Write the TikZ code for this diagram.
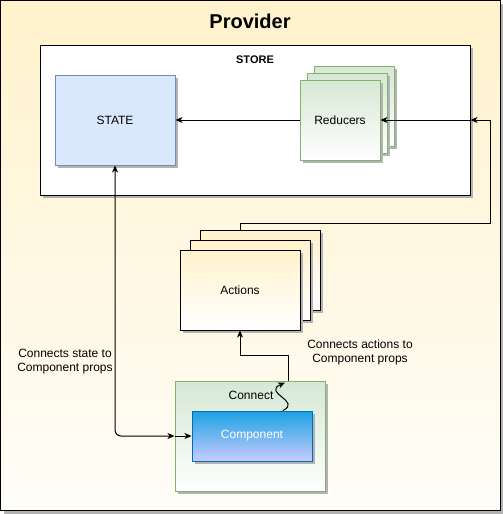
\documentclass[tikz,border=0pt]{standalone}
\usepackage{fontspec}
\setmainfont{Liberation Sans}
\usetikzlibrary{arrows.meta,calc,shadows}
\definecolor{provtop}{HTML}{FFF2CC}
\definecolor{provbot}{HTML}{FFFDF8}
\definecolor{statefill}{HTML}{DAE8FC}
\definecolor{stateline}{HTML}{6C8EBF}
\definecolor{greenfill}{HTML}{D5E8D4}
\definecolor{greenline}{HTML}{82B366}
\definecolor{comptop}{HTML}{1BA1E2}
\definecolor{compbot}{HTML}{C8CCFF}
\definecolor{compline}{HTML}{006EAF}
\definecolor{shade}{HTML}{B3B3B3}
\tikzset{
  shad/.style={drop shadow={shadow xshift=3pt,shadow yshift=-3pt,fill=shade,opacity=1}},
  card/.style={draw,shad,minimum width=#1,inner sep=0pt},
  reducer/.style={card=80pt,minimum height=80pt,draw=greenline,top color=greenfill,bottom color=white},
  action/.style={card=120pt,minimum height=80pt,draw=black,top color=provtop,bottom color=white},
  arr/.style={-{Stealth[length=7pt,width=6pt,inset=2pt]}},
  note/.style={align=center,font=\fontsize{12}{14}\selectfont},
}
\begin{document}
\begin{tikzpicture}[x=1pt,y=-1pt,line width=1pt,font=\fontsize{12}{14}\selectfont]
\useasboundingbox (0,0) rectangle (503,514);
% provider and store
\node[card=500pt,minimum height=510pt,draw=black,top color=provtop,bottom color=provbot] (prov) at (250.5,255.5) {};
\node[font=\fontsize{20}{24}\selectfont\bfseries] (provlbl) at (250,21) {Provider};
\node[card=430pt,minimum height=150pt,draw=black,fill=white] (store) at (255,120) {};
\node[font=\fontsize{11}{13}\selectfont\bfseries] (storelbl) at (255,60) {STORE};
\node[card=120pt,minimum height=90pt,draw=stateline,fill=statefill] (state) at (115,120) {STATE};
\node[reducer] (red3) at (354,106) {};
\node[reducer] (red2) at (347,113) {};
\node[reducer] (red1) at (340,120) {Reducers};
\draw[arr] (red1.west) -- (state.east);
% actions feed the store
\draw[arr] (240,250) -- (240,223) -| ($(store.east)+(20,0)$) -- (store.east);
\draw[arr] (store.east) -- (red1.east);
\node[action] (act3) at (260,270) {};
\node[action] (act2) at (250,280) {};
\node[action] (act1) at (240,290) {Actions};
% connect
\node[card=150pt,minimum height=110pt,draw=greenline,top color=greenfill,bottom color=white] (conn) at (250,436) {};
\node (connlbl) at (251,395) {Connect};
\node[card=120pt,minimum height=50pt,draw=compline,top color=comptop,bottom color=compbot,text=white] (comp) at (252,436) {Component};
\draw[arr] ($(comp.north)+(31,0)$) .. controls (302,401) and (262,393) .. ($(conn.north)+(35,2)$);
\draw[arr] ($(conn.north)+(38,0)$) -- ++(0,-25) -| (act1.south);
\draw[{Stealth[length=7pt,width=6pt,inset=2pt]}-{Stealth[length=7pt,width=6pt,inset=2pt]},rounded corners=6pt] (state.south) |- (conn.west);
\draw[arr] (conn.west) -- (comp.west);
\node[note] (statenote) at (65,362) {Connects state to\\Component props};
\node[note] (actnote) at (360,352) {Connects actions to\\Component props};
\end{tikzpicture}
\end{document}
